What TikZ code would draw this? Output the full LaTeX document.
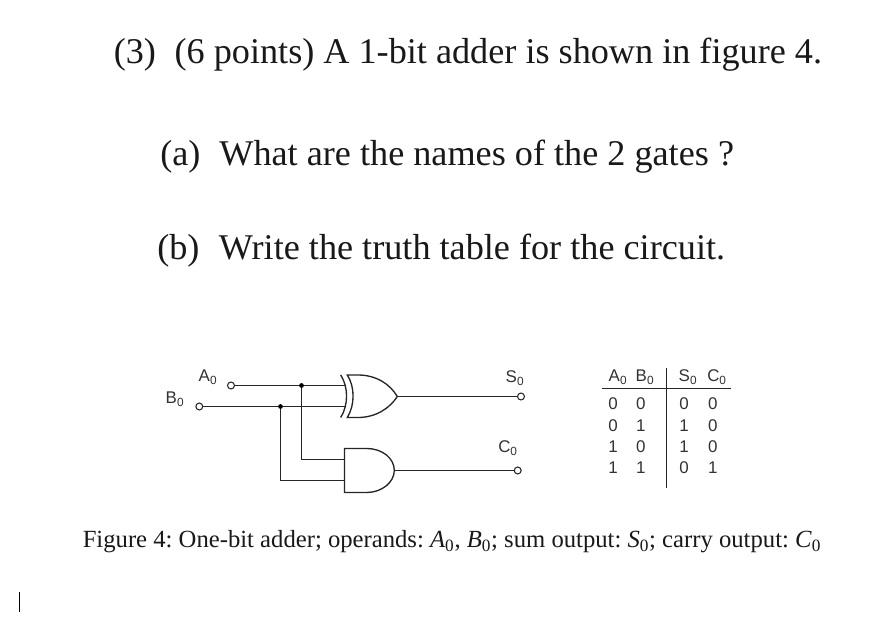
\documentclass[tikz,border=0pt]{standalone}
\usepackage{fontspec}
\setmainfont{Liberation Serif}
\setsansfont{Liberation Sans}
\frenchspacing
\newcommand{\pxfont}[1]{\fontsize{#1}{#1}\selectfont}
\tikzset{
  x=0.75pt,y=-0.75pt,
  wire/.style={line width=1pt,draw=black!85},
  gate/.style={line width=1pt,draw=black!85,line join=miter},
  term/.style={circle,draw=black!85,line width=0.8pt,fill=white,minimum size=5.2pt,inner sep=0pt},
  joint/.style={circle,fill=black,minimum size=3.6pt,inner sep=0pt},
  head/.style={anchor=base west,inner sep=0pt,text=black!90,font=\pxfont{27.15}},
  cap1/.style={anchor=base west,inner sep=0pt,text=black!90,font=\pxfont{18.5}},
  sig/.style={inner sep=0pt,font=\sffamily\pxfont{12.7},text=black!80},
  cell/.style={inner sep=0pt,font=\sffamily\pxfont{12.7},text=black!80},
}
\begin{document}
\begin{tikzpicture}
\useasboundingbox (0,0) rectangle (870,623);
\fill[white] (0,0) rectangle (870,623);
% text
\node[head] (t1) at (113.5,64) {(3)\hspace{14pt}(6 points) A 1-bit adder is shown in figure 4.};
\node[head] (t2) at (160,165.5) {(a)\hspace{14.2pt}What are the names of the 2 gates ?};
\node[head] (t3) at (157,259.5) {(b)\hspace{14.6pt}Write the truth table for the circuit.};
\node[cap1] (cap) at (82.5,547.5) {Figure 4: One-bit adder; operands: \textit{A}\textsubscript{0}, \textit{B}\textsubscript{0}; sum output: \textit{S}\textsubscript{0}; carry output: \textit{C}\textsubscript{0}};
% cursor
\coordinate (cur1) at (19.5,591.7);
\coordinate (cur2) at (19.5,611.7);
\draw[line width=0.8pt] (cur1) -- (cur2);
% terminals
\node[term] (a) at (231,385.5) {};
\node[term] (b) at (199.3,406.5) {};
\node[term] (s) at (521,396.5) {};
\node[term] (c) at (517.7,470.5) {};
\node[sig] (la) at (208,377.5) {A\textsubscript{0}};
\node[sig] (lb) at (175,399) {B\textsubscript{0}};
\node[sig] (ls) at (515,378) {S\textsubscript{0}};
\node[sig] (lc) at (508,448) {C\textsubscript{0}};
% XOR
\coordinate (xa) at (345.5,385.5);
\coordinate (xb) at (345.5,406.5);
\coordinate (xo) at (397.3,396.5);
\draw[gate] (340.7,375) .. controls (348.5,387) and (348.5,405) .. (340.7,417.5);
\draw[gate] (347.3,375) -- (358,375) .. controls (376,375) and (390,384) .. (xo)
  .. controls (390,408) and (376,417.5) .. (358,417.5) -- (347.3,417.5)
  .. controls (355,405) and (355,387) .. cycle;
% AND
\coordinate (ya) at (344.5,459.5);
\coordinate (yb) at (344.5,480.5);
\coordinate (yo) at (394.3,470.5);
\draw[gate] (344.5,448.5) -- (366.7,448.5) .. controls (382,448.5) and (394.3,458) .. (yo)
  .. controls (394.3,482) and (382,492.5) .. (366.7,492.5) -- (344.5,492.5) -- cycle;
% wires
\node[joint] (ja) at (301.5,385.5) {};
\node[joint] (jb) at (280.5,406.5) {};
\draw[wire] (a) -- (ja) -- (xa);
\draw[wire] (b) -- (jb) -- (xb);
\draw[wire] (ja) |- (ya);
\draw[wire] (jb) |- (yb);
\draw[wire] (xo) -- (s);
\draw[wire] (yo) -- (c);
% table
\coordinate (v1) at (666.5,367.7);
\coordinate (v2) at (666.5,488);
\coordinate (h1) at (602,388.5);
\coordinate (h2) at (730.7,388.5);
\draw[wire] (v1) -- (v2);
\draw[wire] (h1) -- (h2);
\node[cell] (ha) at (618,377) {A\textsubscript{0}};
\node[cell] (hb) at (645,377) {B\textsubscript{0}};
\node[cell] (hs) at (688,377) {S\textsubscript{0}};
\node[cell] (hc) at (717,377) {C\textsubscript{0}};
\foreach \r/\y/\p/\q/\u/\w in {1/404/0/0/0/0,2/426/0/1/1/0,3/447/1/0/1/0,4/468/1/1/0/1}{
  \node[cell] (r\r a) at (613,\y) {\p};
  \node[cell] (r\r b) at (640.7,\y) {\q};
  \node[cell] (r\r s) at (684,\y) {\u};
  \node[cell] (r\r c) at (712.7,\y) {\w};
}
\end{tikzpicture}
\end{document}
